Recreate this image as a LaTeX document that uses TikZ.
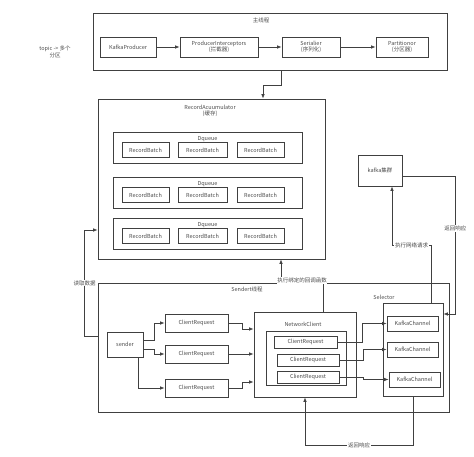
\documentclass[tikz,border=0pt]{standalone}
\usepackage{fontspec}
\setmainfont{Noto Sans CJK SC}
\usetikzlibrary{positioning}
\usetikzlibrary{calc, arrows.meta}

\tikzset{
  box/.style={draw=black!75,line width=0.8pt,fill=white,inner sep=0pt,align=center,text=black!70},
  lbl/.style={inner sep=0pt,align=center,text=black!70},
  tag/.style={fill=white,inner sep=0.6pt,text=black!70},
  arr/.style={draw=black!75,line width=0.8pt,-{Latex[length=4.5pt,width=3.6pt]}},
}

\begin{document}
\begin{tikzpicture}[x=1pt,y=-1pt,font=\fontsize{5.5}{6.5}\selectfont]
\useasboundingbox (0,0) rectangle (474,457);

% main thread
\node[box,minimum width=354,minimum height=57] (main) at (270,41.5) {};
\node[lbl] (mainlbl) at (261,20) {主线程};
\node[box,minimum width=56,minimum height=20] (kp) at (128,47) {KafkaProducer};
\node[box,minimum width=78,minimum height=20] (pi) at (219,47) {ProducerInterceptors\\(拦截器)};
\node[box,minimum width=58,minimum height=20] (ser) at (311,47) {Serialier\\(序列化)};
\node[box,minimum width=52,minimum height=20] (part) at (402,47) {Partitionor\\(分区器)};
\node[lbl] (topic) at (55,52) {topic -> 多个\\分区};

\draw[arr] (kp.east) -- (pi.west);
\draw[arr] (pi.east) -- (ser.west);
\draw[arr] (ser.east) -- (part.west);

% accumulator
\node[box,minimum width=227,minimum height=160] (acc) at (211.5,179) {};
\node[lbl] (acclbl) at (210,111) {RecordAcuumulator\\(缓存)};
\foreach \i/\y in {1/147.5,2/192.5,3/233.5}{
  \node[box,minimum width=189,minimum height=31] (dq\i) at (207.5,\y) {};
  \node[lbl] (dqlbl\i) at (207.5,\y-8.5) {Dqueue};
  \node[box,minimum width=47,minimum height=15] (rba\i) at (145.5,\y+2.5) {RecordBatch};
  \node[box,minimum width=49,minimum height=15] (rbb\i) at (202.5,\y+2.5) {RecordBatch};
  \node[box,minimum width=47,minimum height=15] (rbc\i) at (260.5,\y+2.5) {RecordBatch};
}

\draw[arr] (main.south -| ser.west) -- ++(0,15) -| ($(acc.north)+(51.5,0)$);

% sender thread
\node[box,fill=none,minimum width=351,minimum height=129] (sendert) at (273.5,347.5) {};
\node[lbl] (senderlbl) at (247,289) {Sendert线程};
\node[box,minimum width=36,minimum height=25] (sender) at (125,344.5) {sender};
\node[box,minimum width=63,minimum height=18] (cr1) at (196.5,323) {ClientRequest};
\node[box,minimum width=63,minimum height=18] (cr2) at (196.5,354) {ClientRequest};
\node[box,minimum width=63,minimum height=18] (cr3) at (196.5,388) {ClientRequest};

\node[box,minimum width=102,minimum height=85] (nc) at (305,354.5) {};
\node[lbl] (nclbl) at (303,324) {NetworkClient};
\node[box,minimum width=80,minimum height=54] (ncin) at (306,358) {};
\node[box,minimum width=63,minimum height=12] (ncr1) at (305.5,342) {ClientRequest};
\node[box,minimum width=62,minimum height=12] (ncr2) at (308,360) {ClientRequest};
\node[box,minimum width=62,minimum height=12] (ncr3) at (308,377) {ClientRequest};

\node[box,minimum width=60,minimum height=93] (sel) at (413,349.5) {};
\node[lbl] (sellbl) at (384,297) {Selector};
\node[box,minimum width=51,minimum height=15] (kc1) at (412.5,323.5) {KafkaChannel};
\node[box,minimum width=51,minimum height=15] (kc2) at (412.5,349.5) {KafkaChannel};
\node[box,minimum width=51,minimum height=15] (kc3) at (414.5,379.5) {KafkaChannel};

\node[box,minimum width=44,minimum height=31] (cluster) at (380,170.5) {kafka集群};

\draw[arr] ($(sender.east)+(0,-4.5)$) -- ++(11,0) |- (cr1.west);
\draw[arr] ($(sender.east)+(0,4.5)$) -- ++(11,0) |- (cr2.west);
\draw[arr] ($(sender.south)+(13,0)$) |- (cr3.west);

\draw[arr] (cr1.east) -- ++(14,0) |- ($(nc.west)+(0,-25.5)$);
\draw[arr] (cr2.east) -- (cr2.east -| nc.west);
\draw[arr] (cr3.east) -- ++(14,0) |- ($(nc.west)+(0,27.5)$);

\draw[arr] (ncr1.east) -- ++(25,0) |- (kc1.west);
\draw[arr] (ncr2.east) -- ++(24,0) |- (kc2.west);
\draw[arr] (ncr3.east) -- ++(24,0) |- (kc3.west);

% labelled connectors
\draw[arr] ($(sendert.west)+(0,-11.5)$) -- ++(-13,0) |- node[tag,pos=0.25] {读取数据} ($(acc.west)+(0,51)$);
\draw[arr] ($(nc.north)+(18,0)$) -- ++(0,-31) -| node[tag,pos=0.25] {执行绑定的回调函数} ($(acc.south)+(69.5,0)$);
\draw[arr] ($(sel.north)+(18,0)$) -- ++(0,-57) -| node[tag,pos=0.25] {执行网络请求} ($(cluster.south)+(12,0)$);
\draw[arr] ($(cluster.east)+(0,5.5)$) -- ++(53,0) |- node[tag,pos=0.19] {返回响应} ($(sel.east)+(0,-35.5)$);
\draw[arr] (sel.south) -- ++(0,49) -| node[tag,pos=0.25] {返回响应} (nc.south);

\end{tikzpicture}
\end{document}
